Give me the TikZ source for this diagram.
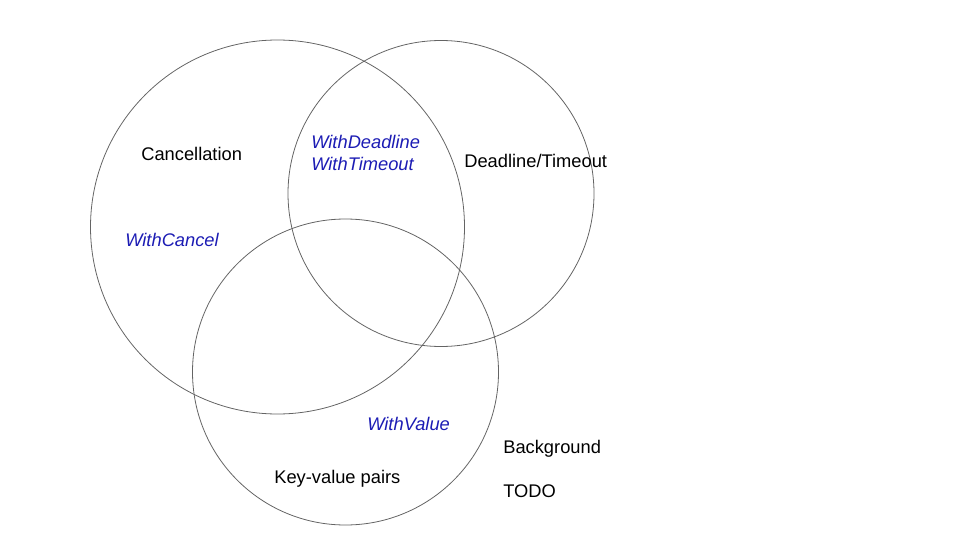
\documentclass[tikz,border=0pt]{standalone}
\usepackage{fontspec}
\setmainfont{Liberation Sans}
\usepackage{tikz}
\usetikzlibrary{positioning}
\definecolor{setline}{RGB}{100,100,100}
\definecolor{funcblue}{RGB}{28,28,180}

\begin{document}
\begin{tikzpicture}[x=1pt, y=-1pt, semithick, font=\fontsize{18.3}{22}\selectfont]
    \tikzstyle{set}=[draw=setline, line width=0.8pt, circle, inner sep=0pt]
    \tikzstyle{lbl}=[anchor=west, inner sep=0pt, text=black]
    \tikzstyle{func}=[lbl, text=funcblue, font=\fontsize{18.3}{22}\selectfont\itshape]
    \useasboundingbox (0,0) rectangle (960,540);

    % the three sets
    \node[set, minimum size=374pt] (cancel) at (277.5,227) {};
    \node[set, minimum size=306pt] (deadline) at (441,193.5) {};
    \node[set, minimum size=306pt] (values) at (345.5,372) {};

    % set names
    \node[lbl] (cancelname) at (141,154) {Cancellation};
    \node[lbl] (deadlinename) at (464,161) {Deadline/Timeout};
    \node[lbl] (valuesname) at (274,479) {Key-value pairs};
    \node[lbl] (bgname) at (503,449) {Background};
    \node[lbl] (todo) at (503,491) {TODO};

    % functions
    \node[func] (withcancel) at (125,240) {WithCancel};
    \node[func] (withdeadline) at (311,142) {WithDeadline};
    \node[func] (withtimeout) at (311,164) {WithTimeout};
    \node[func] (withvalue) at (367,424) {WithValue};
\end{tikzpicture}
\end{document}
